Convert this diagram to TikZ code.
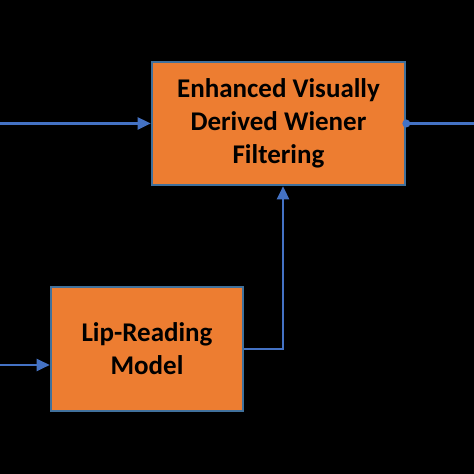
\documentclass[tikz,border=0pt]{standalone}
\usepackage{fontspec}
\setmainfont{Carlito}
\usetikzlibrary{calc,arrows.meta}

\definecolor{boxfill}{HTML}{ED7D31}
\definecolor{boxline}{HTML}{41719C}
\definecolor{wire}{HTML}{4472C4}

\begin{document}
\begin{tikzpicture}[x=1pt,y=1pt,
blk/.style={draw=boxline,line width=2.6pt,fill=boxfill,inner sep=0,align=center,
  font=\fontsize{27}{33}\selectfont\bfseries},
link/.style={draw=wire,line width=2.6pt,-{Triangle[length=13pt,width=12pt]}},
plain/.style={draw=wire,line width=2.6pt}]
	\fill[black] (0,0) rectangle (474,474);
	\useasboundingbox (0,0) rectangle (474,474);
	\def\xx{283}
	\node[blk,minimum width=253pt,minimum height=123pt] at (278.5,350.5) (wf) {Enhanced Visually\\Derived Wiener\\Filtering};
	\node[blk,minimum width=192pt,minimum height=124pt] at (147,125) (lr) {Lip-Reading\\Model};

	\coordinate (in1) at (0,350.5);
	\coordinate (in2) at (0,109);
	\coordinate (out) at (474,350.5);
	\coordinate (bend) at (\xx,125);

	%noisy speech in
	\draw[link] (in1) -- (wf.west);
	%enhanced speech out
	\draw[plain] (wf.east) -- (out);
	\fill[wire] (wf.east) circle (4pt);
	%video in
	\draw[link] (in2) -- (lr.west |- in2);
	%visual features
	\draw[link] (lr.east) -- (bend) -- (bend |- wf.south);
\end{tikzpicture}
\end{document}
